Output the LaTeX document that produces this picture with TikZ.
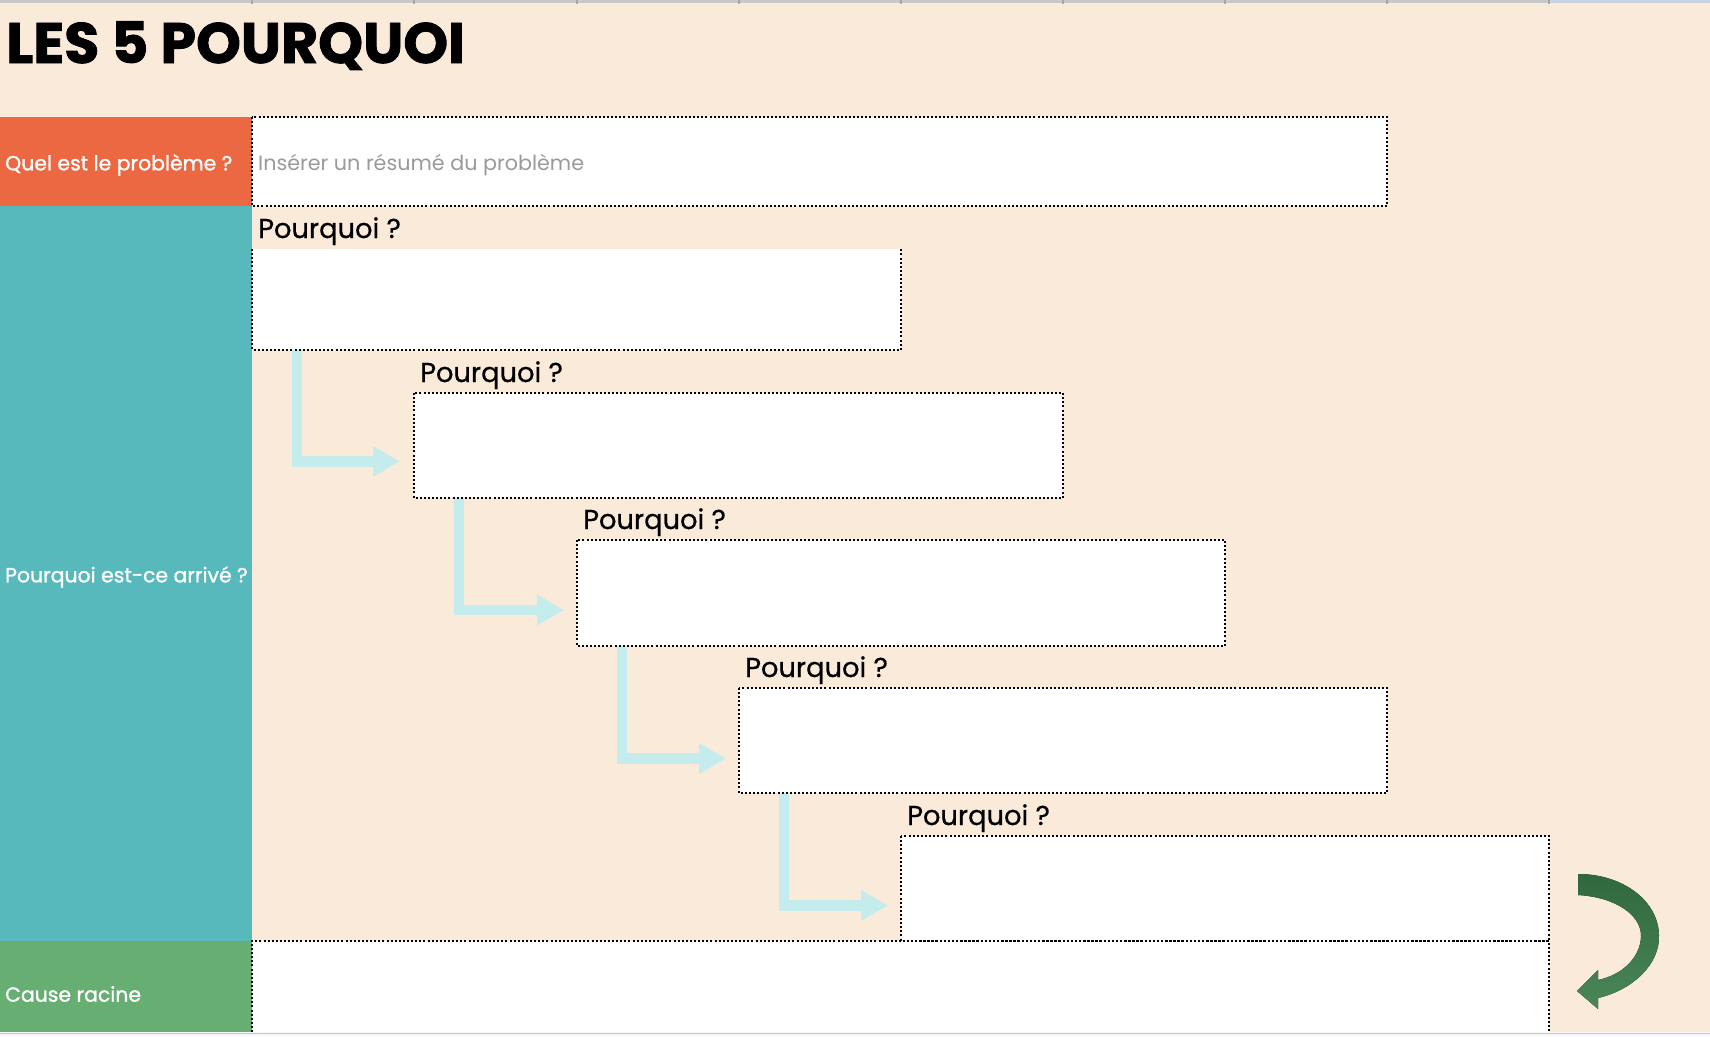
\documentclass[tikz,border=0pt]{standalone}
\usepackage{fontspec}
\setmainfont{Poppins}
\newfontfamily\semib{Poppins}[FakeBold=1.2]
\newfontfamily\medf{Poppins}[FakeBold=0.6]
\newfontfamily\heavyf{Poppins Bold}[FakeBold=1.5]
\usetikzlibrary{arrows.meta}
\definecolor{bg}{HTML}{FAEADA}
\definecolor{orangec}{HTML}{EB6842}
\definecolor{tealc}{HTML}{58B9BC}
\definecolor{greenc}{HTML}{67AE72}
\definecolor{arrowc}{HTML}{C5ECEC}
\definecolor{darkg}{HTML}{2F683C}
\definecolor{darkg2}{HTML}{4A8757}
\definecolor{hint}{HTML}{9A9A9A}
\definecolor{gridc}{HTML}{C8C8C8}
\definecolor{gridb}{HTML}{C9D3DF}
\tikzset{
  cell/.style={inner sep=0pt, outer sep=0pt, anchor=north west},
  wbox/.style={cell, fill=white},
  celltext/.style={text=white, font=\semib\fontsize{20.4}{24}\selectfont, anchor=west, inner sep=0pt},
  lbl/.style={font=\medf\fontsize{27.3}{30}\selectfont, anchor=base west, inner sep=0pt},
  dots/.style={line width=2pt, dash pattern=on 2pt off 2.1pt, black},
  conn/.style={draw=arrowc, line width=10.5pt, line join=miter,
    -{Triangle[length=27pt,width=29pt,fill=arrowc]}},
}
\begin{document}
\begin{tikzpicture}[x=1pt,y=-1pt]
\fill[bg] (0,0) rectangle (1710,1036);
\useasboundingbox (0,0) rectangle (1710,1036);
% spreadsheet header remnant
\fill[gridc] (0,0) rectangle (1549,3);
\fill[gridb] (1549,0) rectangle (1710,3);
\foreach \xx in {252,414,577,739,901,1063,1225,1387,1549}
  \fill[gray!70] (\xx-0.8,0) rectangle (\xx+0.8,4);
% bottom strip
\fill[white!97!black] (0,1032) rectangle (1710,1036);
\draw[gridc, line width=1pt] (0,1033) -- (1710,1033);

% title
\node[anchor=base west, inner sep=0pt, font=\heavyf\fontsize{57}{60}\selectfont] (title) at (6,63) {LES 5 POURQUOI};

% left column cells
\node[cell, fill=orangec, minimum width=252pt, minimum height=89pt] (qcell) at (0,117) {};
\node[cell, fill=tealc, minimum width=252pt, minimum height=735pt] (pcell) at (0,206) {};
\node[cell, fill=greenc, minimum width=252pt, minimum height=91pt] (ccell) at (0,941) {};
\node[celltext] (qtext) at (5,165) {Quel est le problème ?};
\node[celltext] (ptext) at (5,577) {Pourquoi est-ce arrivé ?};
\node[celltext] (ctext) at (5,994) {Cause racine};

% white boxes
\node[wbox, minimum width=1135pt, minimum height=89pt] (prob) at (252,117) {};
\node[wbox, minimum width=649pt, minimum height=101pt] (b1) at (252,249) {};
\node[wbox, minimum width=649pt, minimum height=105pt] (b2) at (414,393) {};
\node[wbox, minimum width=648pt, minimum height=106pt] (b3) at (577,540) {};
\node[wbox, minimum width=648pt, minimum height=105pt] (b4) at (739,688) {};
\node[wbox, minimum width=648pt, minimum height=105pt] (b5) at (901,836) {};
\node[wbox, minimum width=1297pt, minimum height=91pt] (root) at (252,941) {};

\node[anchor=west, inner sep=0pt, text=hint, font=\fontsize{20.7}{24}\selectfont] (ptxt) at (258,165.5) {Insérer un résumé du problème};

% labels
\foreach \b in {b1,b2,b3,b4,b5}
  \node[lbl] (l\b) at ([xshift=6pt,yshift=11pt]\b.north west) {Pourquoi ?};

% connectors
\draw[conn] ([xshift=45pt]b1.south west) |- ([xshift=-14pt,yshift=-16pt]b2.west);
\draw[conn] ([xshift=45pt]b2.south west) |- ([xshift=-13pt,yshift=-17pt]b3.west);
\draw[conn] ([xshift=45pt]b3.south west) |- ([xshift=-13pt,yshift=-18pt]b4.west);
\draw[conn] ([xshift=45pt]b4.south west) |- ([xshift=-13pt,yshift=-17pt]b5.west);

% dotted borders
\draw[dots] (prob.north west) rectangle (prob.south east);
\draw[dots] (b1.north west) -- (b1.south west) -- (b1.south east) -- (b1.north east);
\foreach \b in {b2,b3,b4,b5}
  \draw[dots] (\b.north west) rectangle (\b.south east);
\draw[dots] (root.south west) -- (root.north west) -- (root.north east) -- (root.south east);

% green curved arrow
\fill[top color=darkg, bottom color=darkg2]
  (1578,874) -- (1578,895)
  .. controls (1615,897) and (1642,915) .. (1641,937)
  .. controls (1640,958) and (1622,975) .. (1598,980)
  -- (1598,970) -- (1577,991) -- (1598,1009) -- (1598,998)
  .. controls (1632,990) and (1660,965) .. (1659,935)
  .. controls (1658,900) and (1622,874) .. (1578,874) -- cycle;
\end{tikzpicture}
\end{document}
